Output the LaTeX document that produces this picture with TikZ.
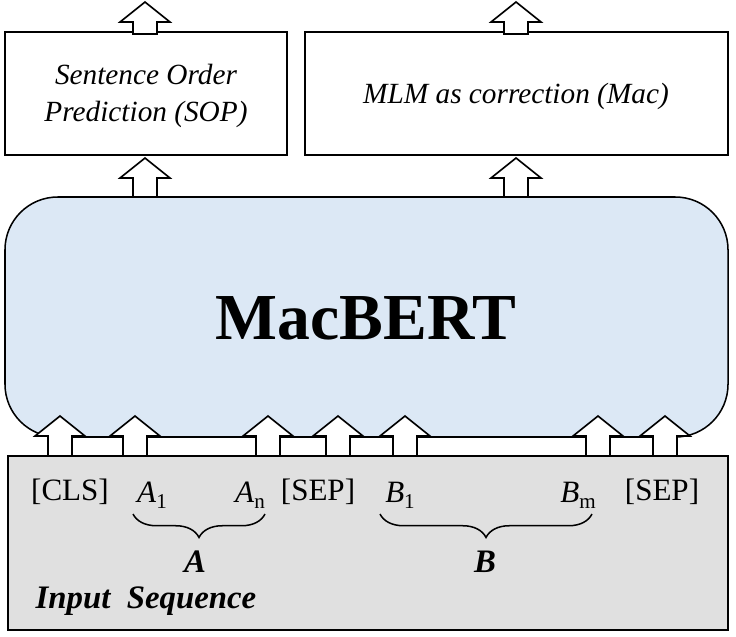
\documentclass[tikz,border=0pt]{standalone}
\usepackage{fontspec}
\setmainfont{Liberation Serif}
\usetikzlibrary{decorations.pathreplacing}
\definecolor{macblue}{HTML}{DCE8F5}
\definecolor{ingray}{HTML}{E0E0E0}
\newcommand{\harrow}[3]{\draw[fill=white,line width=1.4pt,line join=miter]
 (#1-12,#2) -- (#1-12,#3+20) -- (#1-25,#3+20) -- (#1,#3) -- (#1+25,#3+20) -- (#1+12,#3+20) -- (#1+12,#2) -- cycle;}
\begin{document}
\begin{tikzpicture}[x=0.03cm,y=-0.03cm,
  box/.style={draw,line width=1.3pt},
  lbl/.style={font=\fontsize{26.5}{30}\selectfont},
  bil/.style={font=\fontsize{28}{30}\selectfont\bfseries\itshape},
  itl/.style={font=\fontsize{25}{32}\selectfont\itshape,align=center}]
\useasboundingbox (0,0) rectangle (736,636);
% top boxes
\draw[box,fill=white] (5,32) rectangle (287,155);
\draw[box,fill=white] (305,32) rectangle (728,155);
\node[itl] (sop) at (146,96) {Sentence Order\\Prediction (SOP)};
\node[itl] (mac) at (516,96) {MLM as correction (Mac)};
\harrow{145}{34}{2}
\harrow{516}{34}{2}
% MacBERT
\harrow{145}{215}{158}
\harrow{516}{215}{158}
\draw[box,fill=macblue,rounded corners=45] (5,197) rectangle (728,437);
\node[font=\fontsize{56}{60}\selectfont\bfseries] (bert) at (366,318) {MacBERT};
% input
\draw[box,fill=ingray] (8,456) rectangle (728,630);
\foreach \x in {60,135,268,338,405,598,665} {\harrow{\x}{456}{416}}
\node[lbl] (cls) at (70,492) {[CLS]};
\node[lbl] (a1) at (152,495) {\textit{A}\raisebox{-0.4ex}{\fontsize{18}{20}\selectfont 1}};
\node[lbl] (an) at (250,495) {\textit{A}\raisebox{-0.4ex}{\fontsize{18}{20}\selectfont n}};
\node[lbl] (sep1) at (318,492) {[SEP]};
\node[lbl] (b1) at (400,495) {\textit{B}\raisebox{-0.4ex}{\fontsize{18}{20}\selectfont 1}};
\node[lbl] (bm) at (578,495) {\textit{B}\raisebox{-0.4ex}{\fontsize{18}{20}\selectfont m}};
\node[lbl] (sep2) at (662,492) {[SEP]};
\draw[line width=1.3pt,decorate,decoration={brace,mirror,amplitude=20}] (133,514) -- (265,514);
\draw[line width=1.3pt,decorate,decoration={brace,mirror,amplitude=20}] (380,514) -- (592,514);
\node[bil] (la) at (195,562) {A};
\node[bil] (lb) at (485,562) {B};
\node[bil] (inp) at (146,601) {Input\ \ Sequence};
\end{tikzpicture}
\end{document}
